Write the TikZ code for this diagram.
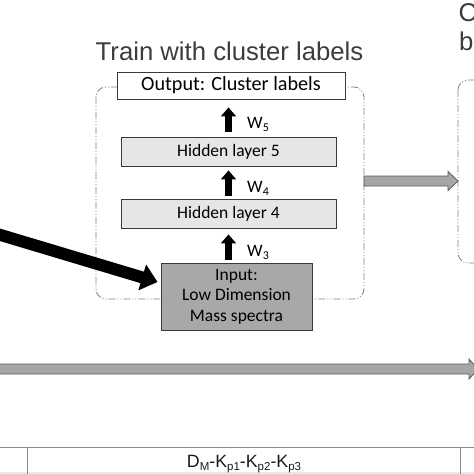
\documentclass[tikz,border=0pt]{standalone}
\usepackage{fontspec}
\setmainfont{Carlito}
\newfontfamily\arialf{Liberation Sans}
\usetikzlibrary{arrows.meta,calc}
\definecolor{boxline}{HTML}{3A3A3A}
\definecolor{hlfill}{HTML}{E6E6E6}
\definecolor{infill}{HTML}{A8A8A8}
\definecolor{dashc}{HTML}{7F7F7F}
\definecolor{gafill}{HTML}{A6A6A6}
\definecolor{gaedge}{HTML}{5A5A5A}
\definecolor{titlec}{HTML}{3C3C3C}
\definecolor{tablec}{HTML}{8C8C8C}
\definecolor{bandc}{HTML}{E9E9E9}
\newcommand\wsub[1]{\raisebox{-3.5pt}{\fontsize{12}{12}\selectfont #1}}
\newcommand\tsub[1]{\raisebox{-3.5pt}{\fontsize{11.5}{11.5}\selectfont #1}}
\tikzset{
 layerbox/.style={draw=boxline, line width=0.9pt, inner sep=0pt, align=center, font=\fontsize{17.5}{20.5}\selectfont, text=black},
 outbox/.style={layerbox, fill=white, minimum width=228pt, minimum height=27pt, font=\fontsize{20.2}{22}\selectfont},
 hidbox/.style={layerbox, fill=hlfill, minimum width=215pt, minimum height=29pt},
 inbox/.style={layerbox, fill=infill, minimum width=151pt, minimum height=67pt},
 groupbox/.style={draw=dashc, line width=0.8pt, rounded corners=10pt, dash pattern=on 7pt off 2pt on 1pt off 2pt on 1pt off 2pt},
 warrow/.style={line width=7pt, -{Triangle[length=9pt,width=15pt]}, black},
 bigarrow/.style={line width=12pt, -{Triangle[length=16pt,width=26pt]}, black},
 garrow/.style={fill=gafill, draw=gaedge, line width=0.8pt},
 wlabel/.style={font=\fontsize{17.5}{20}\selectfont, anchor=base west, inner sep=0pt},
 titletext/.style={font=\arialf\fontsize{25.7}{28}\selectfont, text=titlec, inner sep=0pt, anchor=base},
 tableline/.style={draw=tablec, line width=0.8pt},
}
\begin{document}
\begin{tikzpicture}[x=1pt,y=-1pt]
\useasboundingbox (0,0) rectangle (474,474);
\clip (0,0) rectangle (474,474);
% group boxes
\coordinate (g1) at (96,87); \coordinate (g2) at (364,299);
\draw[groupbox] (g1) rectangle (g2);
\coordinate (r1) at (458,80); \coordinate (r2) at (520,263);
\draw[groupbox] (r1) rectangle (r2);
% titles
\node[titletext] (title) at (229.5,60) {Train with cluster labels};
\node[titletext, anchor=base west] (rt1) at (458.5,21.5) {C};
\node[titletext, anchor=base west] (rt2) at (459,50) {b};
% layers
\node[outbox] (out) at (231,85.5) {Output: Cluster labels};
\node[hidbox] (hl5) at (228.5,151.5) {Hidden layer 5};
\node[hidbox] (hl4) at (228.5,213.5) {Hidden layer 4};
\node[inbox] (inp) at (236.5,296.5) {Input:\\Low Dimension\\Mass spectra};
% weight arrows
\draw[warrow] ([yshift=5pt]hl5.north) -- ([yshift=-8pt]hl5.north |- out.south);
\draw[warrow] ([yshift=3pt]hl4.north) -- ([yshift=-4pt]hl5.south);
\draw[warrow] ([yshift=3pt]hl4.south |- inp.north) -- ([yshift=-6pt]hl4.south);
\node[wlabel] (w5) at (247,128) {W\wsub{5}};
\node[wlabel] (w4) at (247,192) {W\wsub{4}};
\node[wlabel] (w3) at (247,256) {W\wsub{3}};
% big black arrow
\coordinate (bs) at (-6,233);
\draw[bigarrow] (bs) -- ($(inp.west)+(-3,-14.5)$);
% gray block arrows
\coordinate (ma1) at (364,181); \coordinate (ma2) at (458,181);
\draw[garrow] let \p1=(ma1), \p2=(ma2) in
  ({\x1},{\y1+5pt}) -- ({\x2-10pt},{\y1+5pt}) -- ({\x2-10pt},{\y1+9.5pt}) -- ({\x2},{\y1})
  -- ({\x2-10pt},{\y1-9.5pt}) -- ({\x2-10pt},{\y1-5pt}) -- ({\x1},{\y1-5pt}) -- cycle;
\coordinate (la1) at (-3,369); \coordinate (la2) at (478,369);
\draw[garrow] let \p1=(la1), \p2=(la2) in
  ({\x1},{\y1+5pt}) -- ({\x2-9pt},{\y1+5pt}) -- ({\x2-9pt},{\y1+10pt}) -- ({\x2},{\y1})
  -- ({\x2-9pt},{\y1-10pt}) -- ({\x2-9pt},{\y1-5pt}) -- ({\x1},{\y1-5pt}) -- cycle;
% table
\fill[bandc] (0,472) rectangle (474,475);
\coordinate (t1) at (-1,447); \coordinate (t2) at (475,447);
\coordinate (v1) at (27,447); \coordinate (v1b) at (27,475);
\coordinate (v2) at (460,447); \coordinate (v2b) at (460,475);
\draw[tableline] (t1) -- (t2);
\draw[tableline] (v1) -- (v1b);
\draw[tableline] (v2) -- (v2b);
\node[font=\arialf\fontsize{17.8}{20}\selectfont, anchor=base, inner sep=0pt, text=black!90] (dm) at (244,467) {D\tsub{M}-K\tsub{p1}-K\tsub{p2}-K\tsub{p3}};
\end{tikzpicture}
\end{document}
